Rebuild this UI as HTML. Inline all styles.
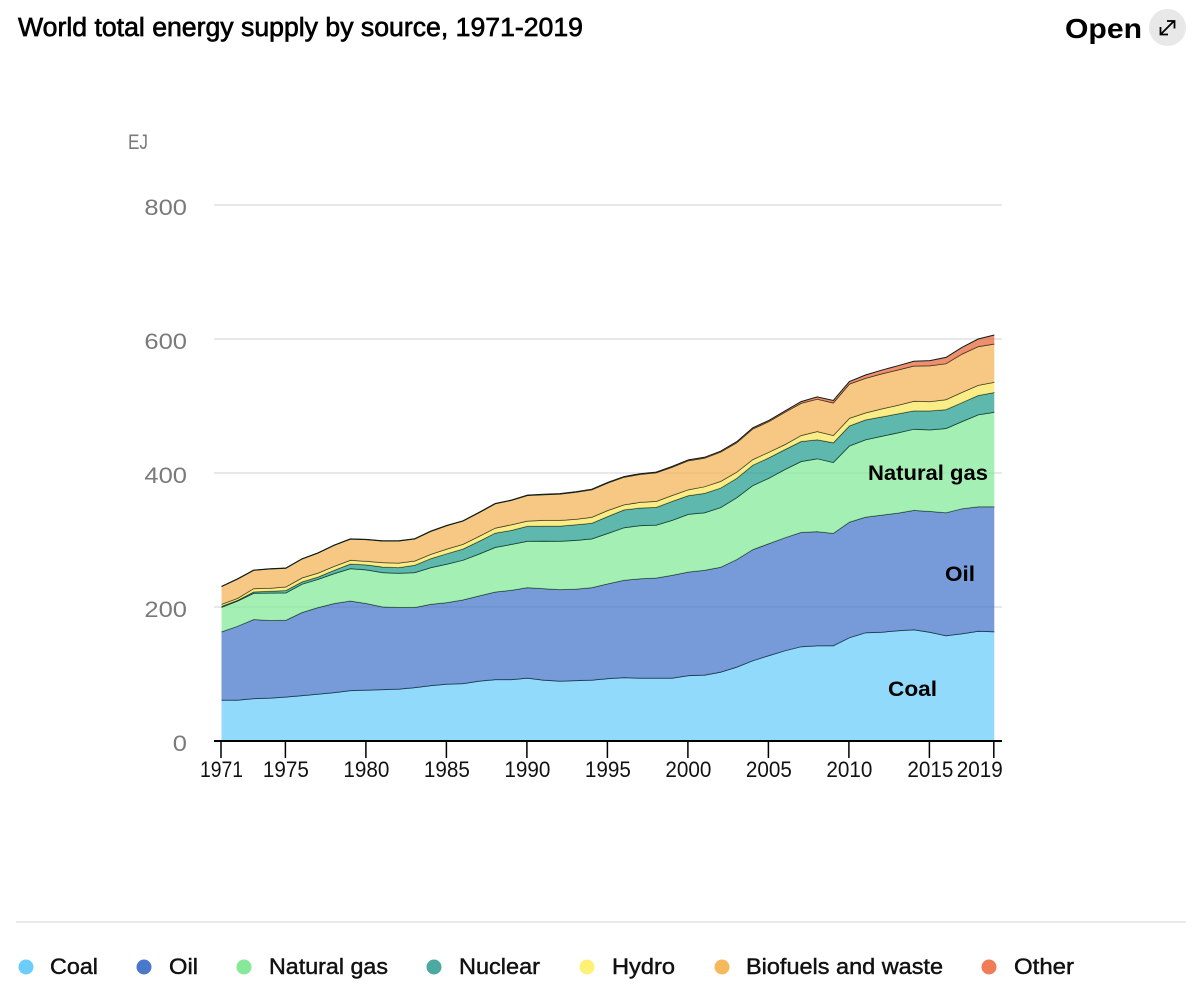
<!DOCTYPE html>
<html lang="en">
<head>
<meta charset="utf-8">
<title>World total energy supply by source, 1971-2019</title>
<style>
html,body{margin:0;padding:0;background:#fff;width:1200px;height:993px;overflow:hidden}
svg{display:block;font-family:"Liberation Sans",sans-serif}
.ytick{font-size:22.5px;fill:#7a7a7a;text-anchor:end}
.xtick{font-size:22px;fill:#111;text-anchor:middle}
.area-label{font-size:21.5px;font-weight:bold;fill:#000;text-anchor:middle}
.legend-text{font-size:22px;fill:#111;stroke:#111;stroke-width:.45px}
</style>
</head>
<body>
<svg id="chart" width="1200" height="993" viewBox="0 0 1200 993" xmlns="http://www.w3.org/2000/svg">
  <text x="18" y="36" font-size="25.5" fill="#000" stroke="#000" stroke-width=".65" textLength="565" lengthAdjust="spacingAndGlyphs">World total energy supply by source, 1971-2019</text>
  <text x="1065" y="38" font-size="28" font-weight="bold" fill="#000" textLength="77" lengthAdjust="spacingAndGlyphs">Open</text>
  <g>
    <circle cx="1167.500" cy="27.500" r="18.500" fill="#e8e8e8"/>
    <path d="M1161 34L1174 21M1167 21H1174.500V28.500M1160.500 27V34.500H1168" fill="none" stroke="#000" stroke-width="1.800"/>
  </g>
  <text x="128" y="149" font-size="21" fill="#7a7a7a" textLength="20" lengthAdjust="spacingAndGlyphs">EJ</text>
  <g id="grid"></g>
  <g id="areas"></g>
  <g id="axis"></g>
  <text class="area-label" x="928" y="480" textLength="120" lengthAdjust="spacingAndGlyphs">Natural gas</text>
  <text class="area-label" x="960" y="581" textLength="30" lengthAdjust="spacingAndGlyphs">Oil</text>
  <text class="area-label" x="912.500" y="696" textLength="49" lengthAdjust="spacingAndGlyphs">Coal</text>
  <line x1="16" x2="1186" y1="922" y2="922" stroke="#e4e4e4" stroke-width="1.500"/>
  <g>
    <g><circle cx="26" cy="967" r="7.500" fill="#6ccdfb"/><text class="legend-text" x="50" y="974" textLength="48" lengthAdjust="spacingAndGlyphs">Coal</text></g>
    <g><circle cx="144" cy="967" r="7.500" fill="#4a78cc"/><text class="legend-text" x="169" y="974" textLength="29" lengthAdjust="spacingAndGlyphs">Oil</text></g>
    <g><circle cx="244" cy="967" r="7.500" fill="#86e99a"/><text class="legend-text" x="269" y="974" textLength="119" lengthAdjust="spacingAndGlyphs">Natural gas</text></g>
    <g><circle cx="434" cy="967" r="7.500" fill="#4aaa9f"/><text class="legend-text" x="459" y="974" textLength="81" lengthAdjust="spacingAndGlyphs">Nuclear</text></g>
    <g><circle cx="587" cy="967" r="7.500" fill="#fff176"/><text class="legend-text" x="612" y="974" textLength="63" lengthAdjust="spacingAndGlyphs">Hydro</text></g>
    <g><circle cx="722" cy="967" r="7.500" fill="#f5b95c"/><text class="legend-text" x="746" y="974" textLength="197" lengthAdjust="spacingAndGlyphs">Biofuels and waste</text></g>
    <g><circle cx="989" cy="967" r="7.500" fill="#ef7d57"/><text class="legend-text" x="1014" y="974" textLength="60" lengthAdjust="spacingAndGlyphs">Other</text></g>
  </g>
</svg>
<script>
const firstYear = 1971;
const coal = [61,61,63.3,64,65.6,67.8,70,72.3,75.2,76,76.7,77.5,79.7,82.7,84.9,85.7,89.4,91.6,91.6,93.9,90.9,89.4,90.1,90.9,93.1,94.6,93.9,93.9,93.9,97.6,98.3,102.8,110.3,119.9,127.4,134.8,140.8,142.3,142.3,154.2,161.7,162.4,164.6,166.1,162.4,157.2,160.2,163.9,163.2];
const oil = [101.8,110.3,118,115.8,114.7,124,129.2,132.9,133.8,129.2,123.4,121.7,119.5,121.4,121.7,124.9,127.1,130.8,133.4,135.1,136.6,136.6,136.6,138.1,141.6,145.3,148.3,149.4,153.5,154.7,156.5,156.5,160.5,165.7,167.2,168.7,170.6,170.2,167.6,172.5,172.5,174.8,175.5,178.1,180.3,183.6,186.5,185.8,186.5];
const naturalGas = [36.8,37.7,39.2,41.1,40.7,42.2,42.2,44.7,48.3,50.1,51.3,51.1,52.2,54.7,57.5,59.2,62.6,66.6,68.5,69,70.9,72,72.7,72.7,75.2,78.5,79.3,79,82,86,86,89,92.4,95.8,97.7,101.8,105.8,108.8,105.8,113.8,115.3,117.7,119.8,121.1,121.7,125.6,130.1,137.1,141];
const nuclear = [1.5,1,2,2.5,3.6,3.4,3.4,4.9,6.9,7.5,8.3,8.5,10.9,13.4,15.5,16.8,18.9,21.3,20.9,22.4,22.4,22.8,23.4,23.4,25.3,26.5,26.2,26.4,28.3,27.9,28.8,29.2,28.8,30.2,30.4,29.8,29.8,28.3,29.4,29.8,29.8,28.9,28.3,27.4,28.3,28.3,28.3,28.8,29.4];
const hydro = [3,3,5,4.5,5.4,6,6,6,5.5,5.5,6.6,6.9,6.4,6.4,6.9,7,7.5,7.5,8.5,8,8.5,8.5,8.3,8.9,9,7.7,8.5,8.9,8.9,8.9,10,10,9.4,8.5,8.3,7.5,8.9,12.4,10.9,11.3,10.4,11.9,12.8,14.3,13.9,14.9,15.3,15.3,15.3];
const biofuels = [26.4,28.8,27.3,28.8,27.9,28.3,29.8,31.3,31.7,32.3,32.2,32.8,32.8,34.3,34.9,34.7,35.3,36.2,36.2,38,38.3,39.2,40.2,41,41,41.1,41.7,42.8,42.2,43.2,42.6,43.7,43.8,45.7,45.7,48.1,48.1,48.1,48.7,51.3,51.6,52.2,52.7,52.7,53.6,53.6,57.2,57.7,57.2];
const other = [0.3,0.3,0.3,0.3,0.3,0.3,0.3,0.3,0.3,0.3,0.3,0.3,0.4,0.4,0.4,0.4,0.5,0.5,0.5,0.6,0.6,0.7,0.7,0.8,0.8,0.9,1,1,1.1,1.2,1.3,1.4,1.5,1.6,1.8,2,2.5,3.5,3.5,3.7,5,5.5,6.3,7,7.6,9.4,10,11.4,13.4];
const seriesNames = ["coal","oil","natural-gas","nuclear","hydro","biofuels-and-waste","other"];
const seriesValues = [coal,oil,naturalGas,nuclear,hydro,biofuels,other];
const seriesColors = ["#6ccdfb","#4a78cc","#86e99a","#29a091","#f8e55f","#f3b55a","#e86940"];
const yTicks = [0,200,400,600,800];
const xTicks = [1971,1975,1980,1985,1990,1995,2000,2005,2010,2015,2019];
const xLabelShift = {2015:0.5,2019:-14.5};

const NS = "http://www.w3.org/2000/svg";
function xScale(year){ return 221.5 + (year - firstYear) * 16.1; }
function yScale(v){ return 741 - v * 0.67; }

const gridG = document.getElementById("grid");
yTicks.forEach(function(t){
  if (t > 0) {
    const line = document.createElementNS(NS,"line");
    
    
    line.setAttribute("x1",214);
    line.setAttribute("x2",1002);
    line.setAttribute("y1",yScale(t));
    line.setAttribute("y2",yScale(t));
    line.setAttribute("stroke","#e0e0e0");
    line.setAttribute("stroke-width","1.5");
    gridG.appendChild(line);
  }
  const label = document.createElementNS(NS,"text");
  
  
  label.setAttribute("class","ytick");
  label.setAttribute("x",187);
  label.setAttribute("y",yScale(t) + 10);
  label.setAttribute("textLength",String(t).length * 14.2);
  label.setAttribute("lengthAdjust","spacingAndGlyphs");
  label.textContent = t;
  gridG.appendChild(label);
});

const areasG = document.getElementById("areas");
let base = coal.map(function(){ return 0; });
seriesValues.forEach(function(vals,s){
  const top = vals.map(function(v,i){ return base[i] + v; });
  const upper = top.map(function(v,i){ return xScale(firstYear + i).toFixed(1) + "," + yScale(v).toFixed(1); });
  const lower = base.map(function(v,i){ return xScale(firstYear + i).toFixed(1) + "," + yScale(v).toFixed(1); }).reverse();
  const area = document.createElementNS(NS,"path");
  
  
  area.setAttribute("d","M" + upper.join("L") + "L" + lower.join("L") + "Z");
  area.setAttribute("fill",seriesColors[s]);
  area.setAttribute("fill-opacity","0.75");
  areasG.appendChild(area);
  const edge = document.createElementNS(NS,"path");
  
  
  edge.setAttribute("d","M" + upper.join("L"));
  edge.setAttribute("fill","none");
  edge.setAttribute("stroke","#0c1c18");
  edge.setAttribute("stroke-width","1");
  areasG.appendChild(edge);
  base = top;
});

const axisG = document.getElementById("axis");
const axisLine = document.createElementNS(NS,"line");


axisLine.setAttribute("x1",214);
axisLine.setAttribute("x2",1002);
axisLine.setAttribute("y1",741);
axisLine.setAttribute("y2",741);
axisLine.setAttribute("stroke","#000");
axisLine.setAttribute("stroke-width","2");
axisG.appendChild(axisLine);
xTicks.forEach(function(year){
  const tick = document.createElementNS(NS,"line");
  
  
  tick.setAttribute("x1",xScale(year) - 0.5);
  tick.setAttribute("x2",xScale(year) - 0.5);
  tick.setAttribute("y1",741);
  tick.setAttribute("y2",758);
  tick.setAttribute("stroke","#000");
  tick.setAttribute("stroke-width","1.5");
  axisG.appendChild(tick);
  const label = document.createElementNS(NS,"text");
  
  
  label.setAttribute("class","xtick");
  label.setAttribute("x",xScale(year) + (xLabelShift[year] || 0));
  label.setAttribute("y",777);
  label.setAttribute("textLength",year === 1971 ? 43 : 46);
  label.setAttribute("lengthAdjust","spacingAndGlyphs");
  label.textContent = year;
  axisG.appendChild(label);
});
</script>
</body>
</html>
